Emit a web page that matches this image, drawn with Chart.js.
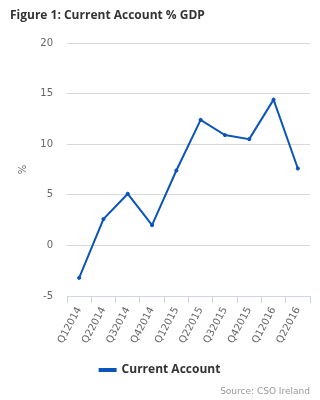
<!DOCTYPE html>
<html>
<head>
<meta charset="utf-8">
<script src="https://cdn.jsdelivr.net/npm/chart.js@4/dist/chart.umd.min.js"></script>
<style>
  html, body { margin: 0; padding: 0; background: #fff; }
  #wrap { position: relative; width: 320px; height: 400px; }
  #title { position: absolute; left: 10px; top: 7px; font: bold 12px "Open Sans", sans-serif; color: #333; line-height: 16px; white-space: nowrap; }
  #source { position: absolute; right: 10px; top: 385px; font: 9px "DejaVu Sans", sans-serif; color: #999; line-height: 12px; white-space: nowrap; }
</style>
</head>
<body>
<div id="wrap">
  <canvas id="c" width="320" height="400"></canvas>
  <div id="title">Figure 1: Current Account % GDP</div>
  <div id="source">Source: CSO Ireland</div>
</div>
<script>
const categories = ["Q12014","Q22014","Q32014","Q42014","Q12015","Q22015","Q32015","Q42015","Q12016","Q22016"];
const currentAccount = [-3.2, 2.6, 5.1, 2.0, 7.4, 12.4, 10.9, 10.5, 14.4, 7.6];
const seriesName = "Current Account";
const yMin = -5, yMax = 20, yStep = 5;

const lineColor = "#0b55b9";

new Chart(document.getElementById("c"), {
  type: "line",
  data: {
    labels: categories,
    datasets: [{
      label: seriesName,
      data: currentAccount,
      borderColor: lineColor,
      backgroundColor: lineColor,
      borderWidth: 2,
      pointRadius: 1.6,
      pointBackgroundColor: lineColor,
      pointBorderColor: lineColor,
      pointBorderWidth: 1,
      tension: 0
    }]
  },
  options: {
    responsive: false,
    animation: false,
    devicePixelRatio: 1,
    layout: { padding: { top: 43, left: 0, right: 0, bottom: 14 } },
    plugins: {
      title: { display: false },
      tooltip: { enabled: false },
      legend: {
        position: "bottom",
        labels: {
          boxWidth: 16,
          boxHeight: 2,
          padding: 10,
          color: "#333",
          font: { family: "Open Sans", size: 12, weight: "bold" }
        }
      }
    },
    scales: {
      x: {
        offset: true,
        grid: { display: true, drawOnChartArea: false, drawTicks: true, tickLength: 7, color: "#ccd6eb", offset: true },
        border: { display: true, color: "#ccd6eb", width: 1 },
        ticks: {
          color: "#666",
          font: { family: "DejaVu Sans", size: 10 },
          minRotation: 62,
          maxRotation: 62,
          padding: 2,
          autoSkip: false
        },
        afterFit: s => { s.height = 58; }
      },
      y: {
        min: yMin,
        max: yMax,
        position: "left",
        grid: { color: "#d8d8d8", drawTicks: false, lineWidth: 1 },
        border: { display: false },
        ticks: {
          stepSize: yStep,
          color: "#666",
          padding: 14,
          font: { family: "DejaVu Sans", size: 10 }
        },
        title: {
          display: true,
          text: "%",
          color: "#666",
          font: { family: "DejaVu Sans", size: 10 },
          padding: { top: 17, bottom: 0 }
        },
        afterFit: s => { s.width = 67; }
      },
      y2: {
        position: "right",
        display: true,
        grid: { display: false, drawOnChartArea: false },
        border: { display: false },
        ticks: { display: false },
        afterFit: s => { s.width = 10; }
      }
    }
  }
});
</script>
</body>
</html>
